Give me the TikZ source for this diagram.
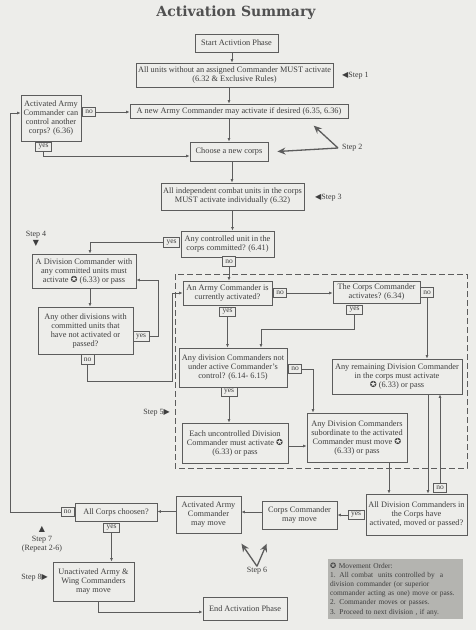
\documentclass[tikz,border=0pt]{standalone}
\usepackage{fontspec}
\setmainfont{Liberation Serif}
\newfontfamily\symfont{DejaVu Sans}
\newfontfamily\titlefont{DejaVu Serif}
\usepackage{xcolor}
\usepackage{tikz}
\usetikzlibrary{arrows.meta}
\usetikzlibrary{backgrounds}
\pgfdeclarelayer{edgelayer}
\pgfdeclarelayer{nodelayer}
\pgfsetlayers{background,edgelayer,nodelayer,main}
\definecolor{paper}{RGB}{237,237,234}
\definecolor{ink}{RGB}{92,92,92}
\definecolor{txt}{RGB}{62,62,62}
\definecolor{notegray}{RGB}{180,180,176}
\newcommand{\mo}{{\symfont ✪}}
\tikzstyle{none}=[inner sep=0mm]
\tikzstyle{heading}=[inner sep=0mm, text=txt!90!white, font={\titlefont\fontsize{14}{16}\selectfont\bfseries}]
\tikzstyle{box}=[draw=ink, line width=0.9pt, fill=paper, text=txt, align=center, inner sep=1pt, font={\fontsize{8.3}{9}\selectfont}]
\tikzstyle{notag}=[draw=ink, line width=0.8pt, fill=paper, text=txt, inner sep=0.5pt, minimum width=13pt, minimum height=9.5pt, font={\fontsize{7.5}{8}\selectfont}]
\tikzstyle{yestag}=[notag, minimum width=16pt]
\tikzstyle{steplabel}=[inner sep=1pt, text=txt, align=center, font={\fontsize{8}{9.5}\selectfont}]
\tikzstyle{note}=[fill=notegray, text=txt, align=left, inner sep=2pt, text width=131pt, minimum height=60pt, anchor=north west, font={\fontsize{7.4}{9.2}\selectfont}]
\tikzstyle{diredge}=[draw=ink, line width=0.8pt, -{Latex[length=3.5pt,width=3pt]}]
\tikzstyle{bigarrow}=[draw=ink, line width=1.3pt, -{Stealth[length=8pt,width=7pt]}]
\tikzstyle{dashbox}=[draw=ink, line width=0.8pt, dash pattern=on 6pt off 3pt]

\begin{document}
\begin{tikzpicture}[x=1pt, y=-1pt]
	\useasboundingbox (0, 0) rectangle (476, 630);
	\begin{pgfonlayer}{background}
		\fill [paper] (0, 0) rectangle (476, 630);
	\end{pgfonlayer}
	\begin{pgfonlayer}{nodelayer}
		\node [style=heading] (0) at (236, 13) {Activation Summary};
		\node [style=box, minimum width=83pt, minimum height=18pt] (1) at (236.5, 43) {Start Activtion Phase};
		\node [style=box, minimum width=197pt, minimum height=24pt] (2) at (234.5, 75) {All units without an assigned Commander MUST activate\\(6.32 \& Exclusive Rules)};
		\node [style=steplabel, anchor=west] (3) at (341, 76) {{\symfont ◀}Step 1};
		\node [style=box, minimum width=218pt, minimum height=14pt] (4) at (239, 111) {A new Army Commander may activate if desired (6.35, 6.36)};
		\node [style=box, minimum width=60pt, minimum height=46pt] (5) at (51, 118) {Activated Army\\Commander can\\control another\\corps? (6.36)};
		\node [style=notag] (6) at (89, 112) {no};
		\node [style=yestag] (7) at (43.5, 147) {yes};
		\node [style=box, minimum width=78pt, minimum height=19pt] (8) at (229, 151.5) {Choose a new corps};
		\node [style=steplabel, anchor=west] (9) at (341, 148) {Step 2};
		\node [style=box, minimum width=143pt, minimum height=27pt] (10) at (232.5, 196.5) {All independent combat units in the corps\\MUST activate individually (6.32)};
		\node [style=steplabel, anchor=west] (11) at (314, 198) {{\symfont ◀}Step 3};
		\node [style=box, minimum width=93pt, minimum height=26pt] (12) at (227.5, 244) {Any controlled unit in the\\corps committed? (6.41)};
		\node [style=yestag] (13) at (171.5, 242.5) {yes};
		\node [style=notag] (14) at (229, 261.5) {no};
		\node [style=steplabel] (15) at (36, 239) {Step 4\\{\symfont ▼}};
		\node [style=box, minimum width=104pt, minimum height=34pt] (16) at (84, 271) {A Division Commander with\\any committed units must\\activate \mo{} (6.33) or pass};
		\node [style=box, minimum width=95pt, minimum height=47pt] (17) at (85.5, 330.5) {Any other divisions with\\committed units that\\have not activated or\\passed?};
		\node [style=yestag] (18) at (141, 336.5) {yes};
		\node [style=notag] (19) at (87.5, 359.5) {no};
		\node [style=box, minimum width=89pt, minimum height=24pt] (20) at (227.5, 293) {An Army Commander is\\currently activated?};
		\node [style=notag] (21) at (280, 293) {no};
		\node [style=yestag] (22) at (227.5, 312) {yes};
		\node [style=box, minimum width=87pt, minimum height=22pt] (23) at (376.5, 292) {The Corps Commander\\activates? (6.34)};
		\node [style=notag] (24) at (427, 292.5) {no};
		\node [style=yestag] (25) at (354.5, 310) {yes};
		\node [style=box, minimum width=108pt, minimum height=39pt] (26) at (233, 367.5) {Any division Commanders not\\under active Commander's\\control? (6.14- 6.15)};
		\node [style=notag] (27) at (295, 369) {no};
		\node [style=yestag] (28) at (229, 392) {yes};
		\node [style=box, minimum width=130pt, minimum height=35pt] (29) at (397, 376.5) {Any remaining Division Commander\\in the corps must activate\\\mo{} (6.33) or pass};
		\node [style=steplabel, anchor=east] (30) at (171, 413) {Step 5{\symfont ▶}};
		\node [style=box, minimum width=106pt, minimum height=40pt] (31) at (235, 443) {Each uncontrolled Division\\Commander must activate \mo\\(6.33) or pass};
		\node [style=box, minimum width=100pt, minimum height=49pt] (32) at (357, 437.5) {Any Division Commanders\\subordinate to the activated\\Commander must move \mo\\(6.33) or pass};
		\node [style=box, minimum width=101pt, minimum height=41pt] (33) at (416.5, 514.5) {All Division Commanders in\\the Corps have\\activated, moved or passed?};
		\node [style=notag] (34) at (440, 488) {no};
		\node [style=yestag] (35) at (356, 515) {yes};
		\node [style=box, minimum width=75pt, minimum height=28pt] (36) at (299.5, 515) {Corps Commander\\may move};
		\node [style=box, minimum width=65pt, minimum height=37pt] (37) at (208.5, 514.5) {Activated Army\\Commander\\may move};
		\node [style=box, minimum width=82pt, minimum height=18pt] (38) at (116, 512) {All Corps choosen?};
		\node [style=notag] (39) at (67.5, 512) {no};
		\node [style=yestag] (40) at (111.5, 528) {yes};
		\node [style=steplabel] (41) at (42, 539.5) {{\symfont ▲}\\Step 7\\(Repeat 2-6)};
		\node [style=box, minimum width=81pt, minimum height=39pt] (42) at (93.5, 581.5) {Unactivated Army \&\\Wing Commanders\\may move};
		\node [style=steplabel, anchor=east] (43) at (49, 578) {Step 8{\symfont ▶}};
		\node [style=box, minimum width=84pt, minimum height=23pt] (44) at (245, 608.5) {End Activation Phase};
		\node [style=steplabel] (45) at (257, 571) {Step 6};
		\node [style=note] (46) at (328, 559) {\mo{} Movement Order:\\1. All combat~ units controlled by~ a\\division commander (or superior\\commander acting as one) move or pass.\\2. Commander moves or passes.\\3. Proceed to next division , if any.};
		\node [style=none] (47) at (313, 125) {};
		\node [style=none] (48) at (241, 543) {};
		\node [style=none] (49) at (267, 543) {};
	\end{pgfonlayer}
	\begin{pgfonlayer}{edgelayer}
		\draw [style=dashbox] (175, 274) rectangle (467, 468);
		\draw [style=diredge] ([xshift=-4.5pt]1.south) to ([xshift=-4.5pt]1.south |- 2.north);
		\draw [style=diredge] ([xshift=-5.5pt]2.south) to ([xshift=-5.5pt]2.south |- 4.north);
		\draw [style=diredge] ([xshift=-10pt]4.south) to ([xshift=-10pt]4.south |- 8.north);
		\draw [style=diredge] (6.east) to (6.east -| 4.west);
		\draw [style=diredge] (7.south) |- ([yshift=-4.5pt]8.west);
		\draw [style=diredge] ([xshift=3pt]8.south) to ([xshift=3pt]8.south |- 10.north);
		\draw [style=diredge] (10.south) to (10.south |- 12.north);
		\draw [style=diredge] (13.west) -| ([xshift=6pt]16.north);
		\draw [style=diredge] (14.south) to (14.south |- 20.north);
		\draw [style=diredge] ([xshift=6pt]16.south) to ([xshift=6pt]16.south |- 17.north);
		\draw [style=diredge] (18.east) -- ++(9, 0) |- ([yshift=-9pt]16.east);
		\draw [style=diredge] (19.south) |- (172, 381) |- (20.west);
		\draw [style=diredge] (21.east) to (21.east -| 23.west);
		\draw [style=diredge] (22.south) to (22.south |- 26.north);
		\draw [style=diredge] (25.south) -- ++(0, 14) -| ([xshift=28pt]26.north);
		\draw [style=diredge] (24.south) to (24.south |- 29.north);
		\draw [style=diredge] (28.south) to (28.south |- 31.north);
		\draw [style=diredge] (27.east) -| ([xshift=-44pt]32.north);
		\draw [style=diredge] ([yshift=-3pt]31.east) to ([yshift=-3pt]31.east -| 32.west);
		\draw [style=diredge] ([xshift=32pt]32.south) to ([xshift=32pt]32.south |- 33.north);
		\draw [style=diredge] ([xshift=31pt]29.south) to ([xshift=31pt]29.south |- 33.north);
		\draw [style=diredge] (34.north) to (34.north |- 29.south);
		\draw [style=diredge] (35.west) to (35.west -| 36.east);
		\draw [style=diredge] ([yshift=3pt]36.west) to ([yshift=3pt]36.west -| 37.east);
		\draw [style=diredge] ([yshift=3pt]37.west) to ([yshift=3pt]37.west -| 38.east);
		\draw [style=diredge] (39.west) -- ++(-50.5, 0) |- ([yshift=5pt]5.west);
		\draw [style=diredge] (40.south) to (40.south |- 42.north);
		\draw [style=diredge] ([xshift=4.5pt]42.south) |- ([yshift=-3.5pt]44.west);
		\draw [style=bigarrow] ([xshift=-3pt]9.west) to ([xshift=9pt]8.east);
		\draw [style=bigarrow] ([xshift=-3pt]9.west) to (47);
		\draw [style=bigarrow] (45.north) to (48);
		\draw [style=bigarrow] (45.north) to (49);
	\end{pgfonlayer}
\end{tikzpicture}
\end{document}
